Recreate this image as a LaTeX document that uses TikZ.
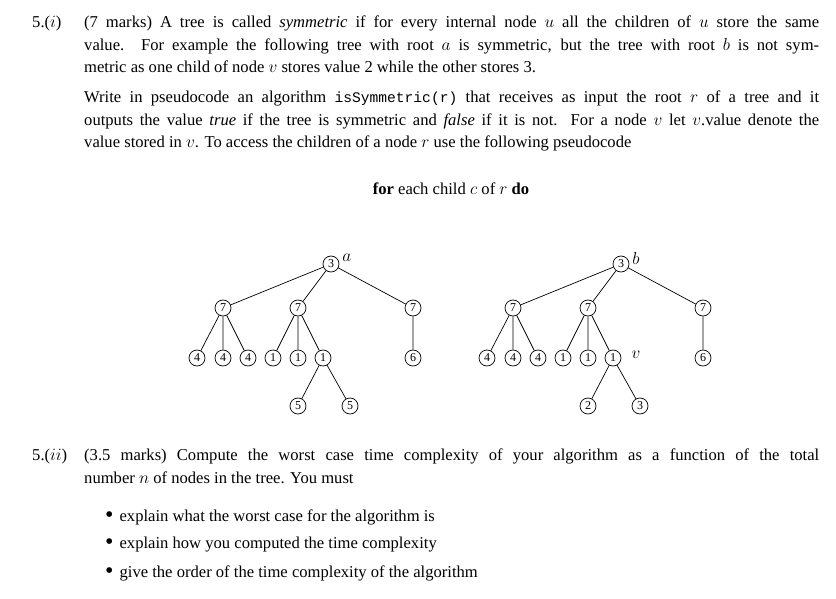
\documentclass[tikz,border=0pt]{standalone}
\usepackage{fontspec}
\setmainfont{Liberation Serif}
\setmonofont[Scale=0.88]{Liberation Mono}
\begin{document}
\begin{tikzpicture}[x=1pt,y=-1pt,
 tn/.style={circle,draw,line width=0.7pt,minimum size=16pt,inner sep=0pt,font=\fontsize{12}{12}\selectfont},
 para/.style={anchor=north west,inner sep=0pt,text width=735pt,align=justify,font=\fontsize{16.6}{22.3}\selectfont},
 lbl/.style={font=\fontsize{16.6}{20}\selectfont,inner sep=0pt}]
\useasboundingbox (0,0) rectangle (836,599);
\fill[white] (0,0) rectangle (836,599);
\node[lbl,anchor=north west] (n1) at (32,16) {5.($i$)};
\node[para] (p1) at (84,16) {(7 marks) A tree is called \textit{symmetric} if for every internal node $u$ all the children of $u$ store the same\linebreak value. For example the following tree with root $a$ is symmetric, but the tree with root $b$ is not sym-\linebreak metric as one child of node $v$ stores value 2 while the other stores 3.};
\node[para] (p2) at (84,91) {Write in pseudocode an algorithm \texttt{isSymmetric(r)} that receives as input the root $r$ of a tree and it\linebreak outputs the value \textit{true} if the tree is symmetric and \textit{false} if it is not. For a node $v$ let $v$.value denote the\linebreak value stored in $v$. To access the children of a node $r$ use the following pseudocode};
\node[lbl] (fe) at (451,189) {\textbf{for} each child $c$ of $r$ \textbf{do}};
\foreach \t/\dx/\lab/\la/\lb in {A/0/a/5/5,B/290/b/2/3}{
 \begin{scope}[xshift=\dx,line width=0.7pt]
 \node[tn] (\t r) at (331,264) {3};
 \node[tn] (\t x) at (223,308) {7};
 \node[tn] (\t y) at (298,308) {7};
 \node[tn] (\t z) at (413,308) {7};
 \node[tn] (\t a1) at (197,358) {4};
 \node[tn] (\t a2) at (223,358) {4};
 \node[tn] (\t a3) at (248,358) {4};
 \node[tn] (\t b1) at (273,358) {1};
 \node[tn] (\t b2) at (298,358) {1};
 \node[tn] (\t b3) at (323,358) {1};
 \node[tn] (\t c1) at (413,358) {6};
 \node[tn] (\t d1) at (298,406) {\la};
 \node[tn] (\t d2) at (350,406) {\lb};
 \node[lbl,anchor=west] (\t lab) at (342,258) {$\lab$};
 \draw (\t r)--(\t x) (\t r)--(\t y) (\t r)--(\t z)
  (\t x)--(\t a1) (\t x)--(\t a2) (\t x)--(\t a3)
  (\t y)--(\t b1) (\t y)--(\t b2) (\t y)--(\t b3)
  (\t z)--(\t c1) (\t b3)--(\t d1) (\t b3)--(\t d2);
 \end{scope}}
\node[lbl] (vl) at (636,355) {$v$};
\node[lbl,anchor=north west] (n2) at (32,449) {5.($ii$)};
\node[para] (p3) at (84,449) {(3.5 marks) Compute the worst case time complexity of your algorithm as a function of the total\linebreak number $n$ of nodes in the tree. You must};
\foreach \i/\yy/\txt in {1/517/explain what the worst case for the algorithm is,2/545/explain how you computed the time complexity,3/573/give the order of the time complexity of the algorithm}{
 \node[lbl,anchor=west] (bul\i) at (105,\yy) {\raisebox{-1pt}{\fontsize{24}{20}\selectfont\textbullet}\hspace{6pt}\txt};}
\end{tikzpicture}
\end{document}
